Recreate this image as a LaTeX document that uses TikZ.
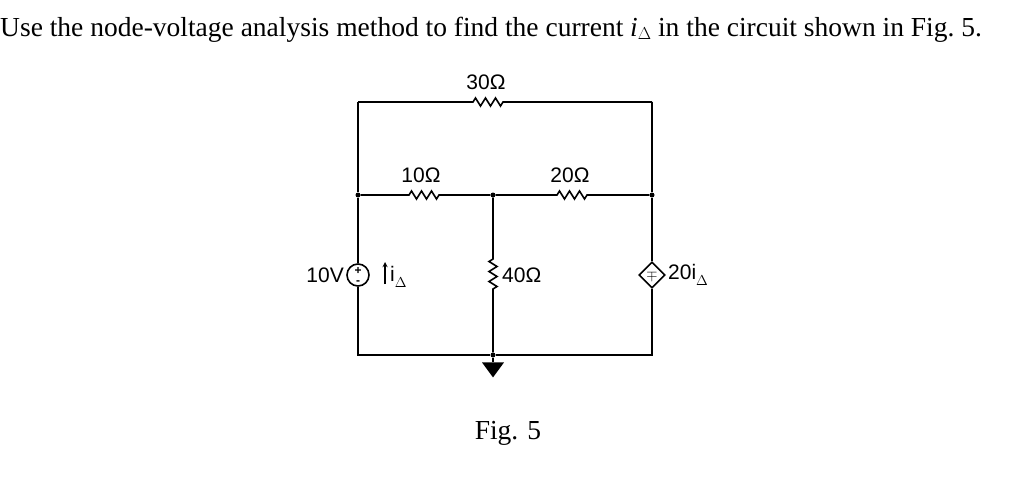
\documentclass[tikz,border=0pt]{standalone}
\usepackage{fontspec}
\setmainfont{Liberation Serif}
\setsansfont{Liberation Sans}
\usetikzlibrary{shapes.geometric}
\begin{document}
\begin{tikzpicture}[x=1pt,y=-1pt,
  wire/.style={line width=1.6pt},
  lbl/.style={font=\sffamily\fontsize{21}{21}\selectfont,inner sep=0pt},
  dot/.style={circle,fill,inner sep=0pt,minimum size=5pt}]
\useasboundingbox (0,0) rectangle (1024,480);
\node[anchor=west,inner sep=0pt,font=\fontsize{27.5}{28}\selectfont] (title) at (0,30)
 {Use the node-voltage analysis method to find the current \textit{i}\raisebox{-0.1em}{\fontsize{16}{16}\selectfont$\Delta$} in the circuit shown in Fig.~5.};
\coordinate (TL) at (358,102); \coordinate (TR) at (652,102);
\coordinate (ML) at (358,195); \coordinate (MM) at (493,195); \coordinate (MR) at (652,195);
\coordinate (BL) at (358,355); \coordinate (BM) at (493,355); \coordinate (BR) at (652,355);
\node[dot] (nL) at (ML) {}; \node[dot] (nM) at (MM) {}; \node[dot] (nR) at (MR) {}; \node[dot] (nB) at (BM) {};
\node[circle,draw,line width=1.6pt,minimum size=22pt,inner sep=0pt] (vs) at (358,275) {};
\node[font=\sffamily\bfseries\fontsize{12}{12}\selectfont,inner sep=0pt] (vp) at (358,271) {+};
\node[font=\sffamily\bfseries\fontsize{12}{12}\selectfont,inner sep=0pt] (vm) at (358,283) {-};
\node[diamond,draw,line width=1.6pt,minimum size=26pt,inner sep=0pt] (ds) at (652,275) {};
\node[font=\fontsize{14}{14}\selectfont,inner sep=0pt] (dsg) at (652,276) {$\mp$};
\draw[wire] (TL) -- (473,102) -- ++(2.5,-4) -- ++(5,8) -- ++(5,-8) -- ++(5,8) -- ++(5,-8) -- ++(5,8) -- ++(2.5,-4) -- (TR);
\draw[wire] (nL) -- (409,195) -- ++(2.5,-4) -- ++(5,8) -- ++(5,-8) -- ++(5,8) -- ++(5,-8) -- ++(5,8) -- ++(2.5,-4) -- (nM);
\draw[wire] (nM) -- (557,195) -- ++(2.5,-4) -- ++(5,8) -- ++(5,-8) -- ++(5,8) -- ++(5,-8) -- ++(5,8) -- ++(2.5,-4) -- (nR);
\draw[wire] (nM) -- (493,259) -- ++(-4,2.5) -- ++(8,5) -- ++(-8,5) -- ++(8,5) -- ++(-8,5) -- ++(8,5) -- ++(-4,2.5) -- (nB);
\draw[wire] (TL) -- (nL) -- (vs) -- (BL) -- (nB) -- (BR) -- (ds) -- (nR) -- (TR);
\node[isosceles triangle,shape border rotate=-90,fill,inner sep=0pt,minimum width=22pt,minimum height=15pt,isosceles triangle stretches] (gnd) at (493,368) {};
\draw[wire] (nB) -- (gnd.north);
\node[lbl] (l30) at (486,82) {30Ω};
\node[lbl] (l10) at (421,175) {10Ω};
\node[lbl] (l20) at (570,175) {20Ω};
\node[lbl,anchor=west] (l40) at (502,275) {40Ω};
\node[lbl,anchor=east] (l10v) at (344,275) {10V};
\node[lbl,anchor=west] (ldep) at (668,275) {20i\raisebox{-0.3em}{\fontsize{15}{15}\selectfont$\Delta$}};
\draw[line width=1.3pt,-stealth] (385,284) -- (385,262);
\node[lbl,anchor=west] (lia) at (390,277) {i\raisebox{-0.3em}{\fontsize{15}{15}\selectfont$\Delta$}};
\node[inner sep=0pt,font=\fontsize{27.5}{28}\selectfont] (fig) at (508,433) {Fig. 5};
\end{tikzpicture}
\end{document}
